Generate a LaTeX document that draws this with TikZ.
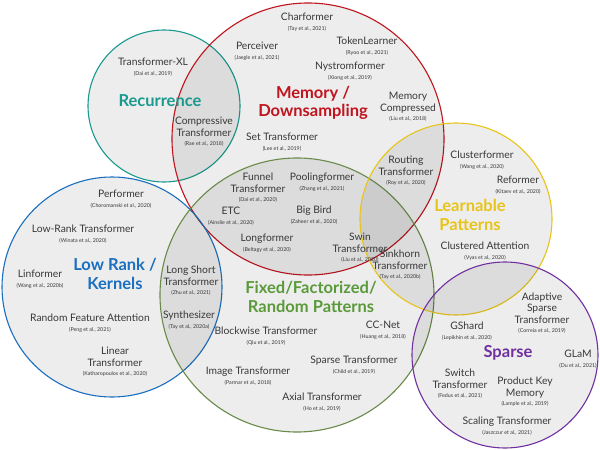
\documentclass[tikz,border=0pt]{standalone}
\usepackage{fontspec}
\setmainfont{Lato}
\begin{document}
\begin{tikzpicture}[x=1pt,y=-1pt,
  circ/.style={line width=1.1pt, fill=black, fill opacity=0.07},
  item/.style={align=center, inner sep=0pt, text=black!78, font=\fontsize{10.3}{11.5}\selectfont},
  title/.style={align=center, inner sep=0pt, font=\fontsize{16.5}{18.5}\selectfont\bfseries}]
\newcommand{\ct}[1]{\\[-2pt]{\fontsize{5.3}{6}\selectfont #1}}
\definecolor{cteal}{HTML}{1A9A8E}
\definecolor{cred}{HTML}{C0141E}
\definecolor{cblue}{HTML}{1A6FC0}
\definecolor{cgreen}{HTML}{5A9A3A}
\definecolor{colive}{HTML}{6A8A4A}
\definecolor{cyel}{HTML}{E8C41A}
\definecolor{cpurp}{HTML}{7030A0}
\useasboundingbox (0,0) rectangle (600,450);
\fill[white] (0,0) rectangle (600,450);
\draw[circ, draw=cteal] (164,106) circle (76);
\draw[circ, draw=cred] (308,139) circle (136);
\draw[circ, draw=cblue] (112,287) circle (110);
\draw[circ, draw=colive] (297,295) circle (137);
\draw[circ, draw=cyel] (456,219) circle (96);
\draw[circ, draw=cpurp] (505,355) circle (93);
% titles
\node[title, text=cteal] (tRec) at (160,101) {Recurrence};
\node[title, text=cred] (tMem) at (313,103) {Memory /\\Downsampling};
\node[title, text=cblue] (tLow) at (115,274) {Low Rank /\\Kernels};
\node[title, text=cgreen] (tFix) at (311,297) {Fixed/Factorized/\\Random Patterns};
\node[title, text=cyel] (tLea) at (470,215) {Learnable\\Patterns};
\node[title, text=cpurp] (tSpa) at (508,353) {Sparse};
% items
\node[item] (n1) at (153,67) {Transformer-XL\ct{(Dai et al., 2019)}};
\node[item] (n2) at (204,132) {Compressive\\Transformer\ct{(Rae et al., 2018)}};
\node[item] (n3) at (307,22) {Charformer\ct{(Tay et al., 2021)}};
\node[item] (n4) at (257,51) {Perceiver\ct{(Jaegle et al., 2021)}};
\node[item] (n5) at (367,46) {TokenLearner\ct{(Ryoo et al., 2021)}};
\node[item] (n6) at (350,71) {Nystromformer\ct{(Xiong et al., 2019)}};
\node[item] (n7) at (408,107) {Memory\\Compressed\ct{(Liu et al., 2018)}};
\node[item] (n8) at (282,142) {Set Transformer\ct{(Lee et al., 2019)}};
\node[item] (n9) at (258,188) {Funnel\\Transformer\ct{(Dai et al., 2020)}};
\node[item] (n10) at (322,182) {Poolingformer\ct{(Zhang et al., 2021)}};
\node[item] (n11) at (231,216) {ETC\ct{(Ainslie et al., 2020)}};
\node[item] (n12) at (314,215) {Big Bird\ct{(Zaheer et al., 2020)}};
\node[item] (n13) at (267,243) {Longformer\ct{(Beltagy et al., 2020)}};
\node[item] (n14) at (360,248) {Swin\\Transformer\ct{(Liu et al., 2020)}};
\node[item] (n15) at (406,171) {Routing\\Transformer\ct{(Roy et al., 2020)}};
\node[item] (n16) at (482,160) {Clusterformer\ct{(Wang et al., 2020)}};
\node[item] (n17) at (518,185) {Reformer\ct{(Kitaev et al., 2020)}};
\node[item] (n18) at (485,251) {Clustered Attention\ct{(Vyas et al., 2020)}};
\node[item] (n19) at (400,265) {Sinkhorn\\Transformer\ct{(Tay et al., 2020b)}};
\node[item] (n20) at (121,199) {Performer\ct{(Choromanski et al., 2020)}};
\node[item] (n21) at (83,234) {Low-Rank Transformer\ct{(Winata et al., 2020)}};
\node[item] (n22) at (40,279) {Linformer\ct{(Wang et al., 2020b)}};
\node[item] (n23) at (90,323) {Random Feature Attention\ct{(Peng et al., 2021)}};
\node[item] (n24) at (115,362) {Linear\\Transformer\ct{(Katharopoulos et al., 2020)}};
\node[item] (n25) at (191,281) {Long Short\\Transformer\ct{(Zhu et al., 2021)}};
\node[item] (n26) at (189,320) {Synthesizer\ct{(Tay et al., 2020a)}};
\node[item] (n27) at (266,336) {Blockwise Transformer\ct{(Qiu et al., 2019)}};
\node[item] (n28) at (383,330) {CC-Net\ct{(Huang et al., 2018)}};
\node[item] (n29) at (248,376) {Image Transformer\ct{(Parmar et al., 2018)}};
\node[item] (n30) at (354,365) {Sparse Transformer\ct{(Child et al., 2019)}};
\node[item] (n31) at (322,402) {Axial Transformer\ct{(Ho et al., 2019)}};
\node[item] (n32) at (467,331) {GShard\ct{(Lepikhin et al., 2020)}};
\node[item] (n33) at (542,313) {Adaptive\\Sparse\\Transformer\ct{(Correia et al., 2019)}};
\node[item] (n34) at (578,359) {GLaM\ct{(Du et al., 2021)}};
\node[item] (n35) at (460,384) {Switch\\Transformer\ct{(Fedus et al., 2021)}};
\node[item] (n36) at (525,392) {Product Key\\Memory\ct{(Lample et al., 2019)}};
\node[item] (n37) at (507,426) {Scaling Transformer\ct{(Jaszczur et al., 2021)}};
\end{tikzpicture}
\end{document}
